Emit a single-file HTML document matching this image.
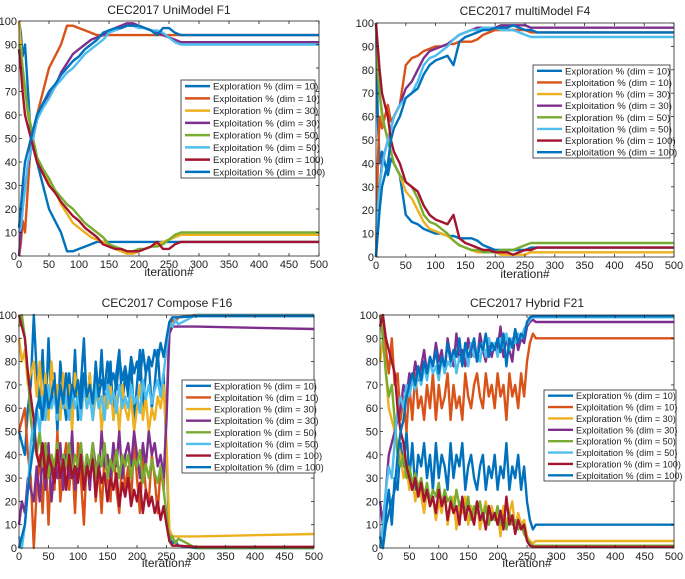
<!DOCTYPE html>
<html><head><meta charset="utf-8">
<style>
html,body{margin:0;padding:0;background:#fff;}
svg text{font-family:"Liberation Sans",sans-serif;fill:#222;}
</style></head>
<body>
<svg id="chart" width="685" height="574" viewBox="0 0 685 574" xmlns="http://www.w3.org/2000/svg"></svg>
<script>
// ---- data ----
const legendLabels = ["Exploration % (dim = 10)","Exploitation % (dim = 10)","Exploration % (dim = 30)","Exploitation % (dim = 30)","Exploration % (dim = 50)","Exploitation % (dim = 50)","Exploration % (dim = 100)","Exploitation % (dim = 100)"];
const xTicks = [0,50,100,150,200,250,300,350,400,450,500];
const yTicks = [0,10,20,30,40,50,60,70,80,90,100];
const titles = ["CEC2017 UniModel F1","CEC2017 multiModel F4","CEC2017 Compose F16","CEC2017 Hybrid F21"];

const itersCoarse = [0,3,6,10,15,20,25,30,40,50,60,70,80,90,100,110,120,130,140,150,160,170,180,190,200,210,220,230,240,250,260,270,280,300,500];
const itersFine = [0,5,10,15,20,25,30,35,40,45,50,55,60,65,70,75,80,85,90,95,100,105,110,115,120,125,130,135,140,145,150,155,160,165,170,175,180,185,190,195,200,205,210,215,220,225,230,235,240,245,250,255,260,265,270,300,500];

// Panel 1 exploration values (exploitation = 100 - exploration)
const p1Explore10 = [100,95,85,90,70,50,45,40,30,20,15,10,2,2,3,4,5,6,6,6,6,6,6,6,6,6,6,6,6,6,6,6,6,6,6];
const p1Explore30 = [100,90,80,70,62,55,48,42,36,32,28,22,18,14,12,10,8,7,6,5,3,2,1,1,2,3,4,5,6,7,8,9,9,9,9];
const p1Explore50 = [90,88,80,72,60,55,48,42,37,33,28,25,22,20,17,14,12,10,8,5,4,3,2,2,3,3,4,4,5,7,9,10,10,10,10];
const p1Explore100 = [88,80,70,60,55,50,45,40,35,30,27,23,20,17,15,12,10,8,5,4,3,3,2,2,2,3,4,6,3,3,5,6,6,6,6];
// Panel 2
const p2Explore10 = [100,60,40,45,40,35,42,40,35,18,15,14,12,11,10,10,9,9,8,8,8,7,5,4,3,3,3,3,3,3,4,4,4,4,4];
const p2Explore30 = [100,80,70,60,55,50,45,40,35,28,25,20,15,12,11,10,9,7,5,4,3,2,2,2,2,1,1,1,1,1,2,2,2,2,2];
const p2Explore50 = [100,80,70,62,55,50,45,40,35,32,30,25,18,15,14,12,10,7,5,4,3,3,2,2,2,3,3,3,4,5,6,6,6,6,6];
const p2Explore100 = [100,90,80,70,65,60,50,45,40,32,30,28,22,18,16,15,14,18,8,6,5,4,3,3,2,2,2,1,2,3,3,4,4,4,4];
// Panel 3
const p3Explore10 = [50,45,40,60,70,100,75,60,85,55,90,60,75,50,80,65,55,75,60,85,55,70,90,60,75,55,80,65,85,60,70,80,55,75,85,60,75,65,80,55,70,85,60,75,80,60,70,85,65,75,40,5,2,3,1,0,0];
const p3Explore30 = [90,80,85,70,75,80,65,80,60,75,55,80,65,70,55,75,60,70,50,75,65,55,70,60,75,55,65,70,50,65,60,70,55,65,50,70,60,55,65,50,60,70,55,65,50,60,55,65,60,70,45,8,5,5,5,5,6];
const p3Explore50 = [95,100,90,75,55,45,40,50,35,45,30,40,35,45,30,40,35,45,30,40,35,45,30,40,35,45,30,40,35,45,30,38,33,42,30,40,35,40,30,38,35,42,28,36,30,38,32,28,35,25,15,3,5,2,4,0,0];
const p3Explore100 = [100,95,90,75,65,55,40,35,45,30,40,35,28,42,30,38,25,40,30,35,28,40,25,35,30,38,22,35,28,32,20,30,25,32,18,28,22,30,18,25,20,28,15,25,18,22,15,20,12,18,10,3,1,1,1,0.5,0.5];
// Panel 4
const p4Explore10 = [5,0,15,25,10,30,25,45,35,50,30,45,25,40,35,45,30,40,25,45,30,40,35,25,45,30,40,35,45,25,35,40,30,25,35,40,25,35,30,40,25,35,30,45,25,35,30,40,25,35,20,12,8,10,10,10,10];
const p4Explore30 = [80,90,75,60,55,50,45,40,30,35,25,30,20,28,22,15,25,18,22,12,20,15,25,10,18,22,8,20,15,22,10,18,12,20,8,15,20,10,18,12,15,5,18,10,15,20,8,15,10,12,5,3,2,3,3,3,3];
const p4Explore50 = [100,90,75,65,70,55,40,35,40,30,35,28,32,25,30,22,28,20,25,22,28,18,25,20,22,15,25,18,20,15,22,12,18,15,20,12,18,10,15,12,18,10,14,8,15,10,12,8,10,6,4,2,1,1,1,1,1];
const p4Explore100 = [95,100,90,85,80,75,60,50,45,35,30,25,30,22,28,20,25,18,22,15,25,18,22,12,20,15,18,10,22,12,18,15,10,20,12,15,8,18,12,15,10,16,8,22,10,14,6,12,8,10,3,1,0.5,0.5,0.5,0.5,0.5];

const panelIters = [itersCoarse, itersCoarse, itersFine, itersFine];
const panelExplore = [
  [p1Explore10,p1Explore30,p1Explore50,p1Explore100],
  [p2Explore10,p2Explore30,p2Explore50,p2Explore100],
  [p3Explore10,p3Explore30,p3Explore50,p3Explore100],
  [p4Explore10,p4Explore30,p4Explore50,p4Explore100]
];

// ---- layout ----
const colors = ["#0072BD","#D95319","#EDB120","#7E2F8E","#77AC30","#4DBEEE","#A2142F","#0072BD"];
const boxes = [
  {x0:19,x1:319,y0:21,y1:256,lx:181,ly:80,lw:134,lh:98,tx:169,ty:14,xl:276,fs:9.6},
  {x0:376,x1:674,y0:23,y1:257,lx:533,ly:65,lw:137,lh:93,tx:525,ty:15,xl:278,fs:9.6},
  {x0:19,x1:314,y0:315,y1:548,lx:182,ly:380,lw:133,lh:93,tx:167,ty:307,xl:567,fs:9.4},
  {x0:380,x1:674,y0:315,y1:548,lx:544,ly:390,lw:132,lh:91,tx:527,ty:307,xl:567,fs:9.1}
];
const NS="http://www.w3.org/2000/svg";
const svg=document.getElementById('chart');
function mk(tag,attrs,parent){const e=document.createElementNS(NS,tag);for(const k in attrs)e.setAttribute(k,attrs[k]);(parent||svg).appendChild(e);return e;}

boxes.forEach((b,pi)=>{
  const g=mk('g',{});
  
  
  const sx=v=>b.x0+(v/500)*(b.x1-b.x0);
  const sy=v=>b.y1-(v/100)*(b.y1-b.y0);
  const iters=panelIters[pi];
  const ex=panelExplore[pi];
  for(let s=0;s<8;s++){
    const vals=ex[s>>1];
    const n=Math.min(vals.length,iters.length);
    let d='';
    for(let i=0;i<n;i++){
      const v=(s%2===0)?vals[i]:100-vals[i];
      d+=(i?'L':'M')+sx(iters[i]).toFixed(1)+','+sy(v).toFixed(1);
    }
    const p=mk('path',{d:d,fill:'none',stroke:colors[s],'stroke-width':2.4,'stroke-linejoin':'round'},g);
    
    
  }
  const ax=mk('rect',{x:b.x0,y:b.y0,width:b.x1-b.x0,height:b.y1-b.y0,fill:'none',stroke:'#262626','stroke-width':0.8},g);
  
  
  xTicks.forEach(t=>{
    const x=sx(t);
    mk('line',{x1:x,x2:x,y1:b.y1,y2:b.y1-3,stroke:'#262626','stroke-width':0.8},g);
    mk('line',{x1:x,x2:x,y1:b.y0,y2:b.y0+3,stroke:'#262626','stroke-width':0.8},g);
    const tt=mk('text',{x:x,y:b.y1+12,'font-size':11,'text-anchor':'middle'},g);
    tt.textContent=t;
    
    
  });
  yTicks.forEach(t=>{
    const y=sy(t);
    mk('line',{x1:b.x0,x2:b.x0+3,y1:y,y2:y,stroke:'#262626','stroke-width':0.8},g);
    mk('line',{x1:b.x1,x2:b.x1-3,y1:y,y2:y,stroke:'#262626','stroke-width':0.8},g);
    const tt=mk('text',{x:b.x0-2,y:y+4,'font-size':11,'text-anchor':'end'},g);
    tt.textContent=t;
    
    
  });
  const ti=mk('text',{x:b.tx,y:b.ty,'font-size':12,'text-anchor':'middle'},g);
  ti.textContent=titles[pi];
  
  
  const xl=mk('text',{x:(b.x0+b.x1)/2,y:b.xl,'font-size':12,'text-anchor':'middle'},g);
  xl.textContent='iteration#';
  
  
  const lg=mk('g',{},g);
  
  
  mk('rect',{x:b.lx,y:b.ly,width:b.lw,height:b.lh,fill:'#fff',stroke:'#262626','stroke-width':0.8},lg);
  const rh=b.lh/8;
  legendLabels.forEach((lab,i)=>{
    const cy=b.ly+rh*(i+0.5);
    const e=mk('g',{},lg);
    
    
    mk('line',{x1:b.lx+4,x2:b.lx+29,y1:cy,y2:cy,stroke:colors[i],'stroke-width':2.4},e);
    const t=mk('text',{x:b.lx+32,y:cy+3.5,'font-size':b.fs},e);
    t.textContent=lab;
  });
});
</script>
</body></html>
